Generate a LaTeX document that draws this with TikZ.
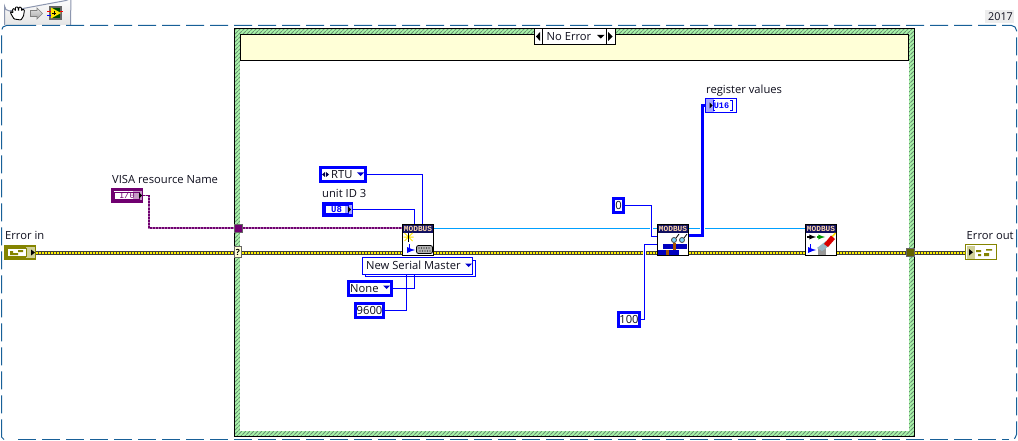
\documentclass[tikz,border=0pt]{standalone}
\usepackage{fontspec}
\setmainfont{Open Sans}
\newfontfamily\pixfont{Liberation Mono}
\usetikzlibrary{patterns}
\definecolor{wireblue}{RGB}{0,0,255}
\definecolor{visa}{RGB}{112,0,112}
\definecolor{errc}{RGB}{132,132,0}
\definecolor{errl}{RGB}{208,208,152}
\definecolor{sky}{RGB}{0,160,255}
\definecolor{framebl}{RGB}{24,96,152}
\definecolor{hatch}{RGB}{170,245,170}
\definecolor{hatchd}{RGB}{105,145,115}
\definecolor{subd}{RGB}{255,255,215}
\definecolor{tabc}{RGB}{140,150,175}
\definecolor{modnavy}{RGB}{16,16,96}
\definecolor{modtxt}{RGB}{255,215,170}
\definecolor{txtc}{RGB}{15,15,30}
\tikzset{
  x=1pt,y=-1pt,
  lbl/.style={inner sep=0pt,anchor=base west,font=\fontsize{11.2}{13}\selectfont,text=txtc},
  ctxt/.style={inner sep=0pt,anchor=base west,font=\fontsize{11.2}{13}\selectfont,text=txtc},
  wire/.style={draw=wireblue,line width=1pt},
  halo/.style={draw=white,line width=3pt},
  thick wire/.style={draw=wireblue,line width=3pt},
  const/.style={draw=wireblue,line width=2.8pt,fill=white,inner sep=0pt,font=\fontsize{11.2}{13}\selectfont,text=txtc},
  vi/.style={draw=black,line width=1.2pt,fill=white},
  mtext/.style={inner sep=0pt,text=modtxt,font=\pixfont\bfseries\fontsize{7.8}{8}\selectfont},
  frameline/.style={framebl,line width=1pt,dash pattern=on 18pt off 6pt},
  ddown/.style={fill=wireblue!80!black},
}
\pgfdeclarepatternformonly{hatchp}{\pgfpoint{-1pt}{-1pt}}{\pgfpoint{5pt}{5pt}}{\pgfpoint{4pt}{4pt}}{
  \pgfsetlinewidth{0.8pt}\pgfsetdash{{2.5pt}{1pt}}{0pt}\pgfpathmoveto{\pgfpoint{0pt}{0pt}}\pgfpathlineto{\pgfpoint{4pt}{4pt}}\pgfusepath{stroke}}
\newcommand{\modhead}[3]{%
  \node[vi,minimum width=31pt,minimum height=31pt,inner sep=0pt] (#3) at (#1,#2) {};
  \fill[modnavy] (#1-15.5,#2-15.5) rectangle (#1+15.5,#2-7);
  \draw[black,line width=1.2pt] (#1-15.5,#2-15.5) rectangle (#1+15.5,#2+15.5);
  \node[mtext] at (#1,#2-11) {MODBUS};}
\newcommand{\errwire}[2]{%
  \fill[black!85!yellow] (#1,250.5) rectangle (#2,254.5);
  \draw[yellow,line width=2pt,dash pattern=on 2pt off 1pt] (#1,252.5) -- (#2,252.5);}
\begin{document}
\begin{tikzpicture}
\useasboundingbox (0,0) rectangle (1018,441);
\fill[white] (0,0) rectangle (1018,441);
% tab
\draw[tabc,line width=1pt,top color=white,bottom color=black!10] (4.5,25) -- (4.5,6) arc[start angle=180,end angle=90,radius=5] -- (66,0.5) arc[start angle=90,end angle=0,radius=5] -- (70.5,25);
% hand
\draw[black,line width=.9pt,fill=white,rounded corners=.8pt] (14,19) -- (10.5,13) -- (11,11.5) -- (13,13) -- (12.5,9) -- (14.5,8.5) -- (15.5,11) -- (15.5,7) -- (18,7) -- (18.5,11) -- (19,7) -- (21.5,7.5) -- (21.5,11) -- (22.5,9) -- (24.5,10) -- (23.5,16) -- (21,20) -- cycle;
% arrow
\draw[black!50,top color=black!10,bottom color=black!35,line width=.7pt] (30.5,10.5) -- (37,10.5) -- (37,8) -- (42.5,13.5) -- (37,19) -- (37,16.5) -- (30.5,16.5) -- cycle;
% run icon
\fill[black!60] (49,6) rectangle (62,20);
\fill[black!70!green] (51,8) rectangle (60,18);
\fill[yellow!90!orange] (51,7.5) -- (61,13) -- (51,18.5) -- cycle;
\draw[red,line width=.8pt] (47,11) -- (51,11) (60,11) -- (63,11);
\draw[blue,line width=.8pt] (47,15.5) -- (51,15.5);
\draw[black,line width=.7pt] (52,13) -- (56,13) (54,11) -- (54,15);
% 2017
\fill[black!7] (985,10) rectangle (1013.5,23.5);
% outer frame
\draw[frameline,rounded corners=5pt] (18,25.5) -- (1016.5,25.5) -- (1016.5,439.5) -- (1010,439.5);
\draw[frameline] (18,439.5) -- (1009,439.5);
\draw[frameline,rounded corners=5pt] (18,25.5) -- (1.5,25.5) -- (1.5,434);
\draw[framebl,line width=1pt] (1.5,434) -- (1.5,437) -- (4,439.5);
\node[inner sep=0pt,anchor=base west,font=\fontsize{10.8}{12}\selectfont,text=txtc] (yr) at (988,20.5) {2017};
% case frame
\fill[hatch] (234.5,28.5) rectangle (914.5,436);
\fill[pattern=hatchp,pattern color=hatchd] (234.5,28.5) rectangle (914.5,436);
\fill[white] (240,34) rectangle (909,431);
\draw[black,line width=1pt] (234.5,28.5) rectangle (914.5,436);
% subdiagram label
\draw[black,line width=1pt,fill=subd] (240.5,34.5) rectangle (908.5,60.5);
% selector
\node[draw=black,line width=1pt,fill=white,minimum width=81pt,minimum height=16pt,inner sep=0pt] (sel) at (574.5,36.5) {};
\node[ctxt] at (546.5,40.5) {No Error};
\fill[black] (597,35) -- (604.5,35) -- (600.75,38.5) -- cycle;
\fill[black] (540,32) -- (540,41) -- (536,36.5) -- cycle;
\fill[black] (608,32) -- (608,41) -- (612.5,36.5) -- cycle;
\draw[black,line width=1pt] (542,28.5) -- (542,44.5) (606,28.5) -- (606,44.5);
% error wires
\errwire{36}{234}
\errwire{242}{402}
\errwire{434}{657}
\errwire{689}{805}
\errwire{837}{906}
\errwire{915}{965}
% visa wire
\draw[visa!55,line width=1.5pt] (143,195.5) -- (149,195.5) -- (149,228) -- (402,228);
\draw[visa,line width=1.5pt,dash pattern=on 2pt off 1pt] (143,195.5) -- (149,195.5) -- (149,228) -- (402,228);
% sky wires
\draw[sky,line width=1pt] (434,228.5) -- (657,228.5);
\draw[sky,line width=1pt] (689,228.5) -- (805,228.5);
% tunnels
\node[draw=black!60,line width=1pt,fill=visa,minimum size=8pt,inner sep=0pt] (tun1) at (238.5,228) {};
\node[draw=black!60,line width=1pt,fill=subd,minimum width=7pt,minimum height=11pt,inner sep=0pt,font=\bfseries\fontsize{8.5}{9}\selectfont,text=black] (tun2) at (238,252) {?};
\node[draw=black!60,line width=1pt,fill=errc!75!black,minimum size=8.5pt,inner sep=0pt] (tun3) at (910.5,252.5) {};
% VISA
\node[lbl] at (112,184) {VISA resource Name};
\node[draw=visa,line width=3pt,fill=white,minimum width=29pt,minimum height=12pt,inner sep=0pt] (vctl) at (127,195.5) {};
\fill[visa!40] (133,191) rectangle (141.5,200);
\node[draw=visa,line width=.8pt,minimum width=25pt,minimum height=7pt,inner sep=0pt,font=\pixfont\fontsize{8.5}{9}\selectfont,text=visa] at (127,195.5) {I/0};
\fill[black] (139,192.5) -- (139,198.5) -- (142,195.5) -- cycle;
% error in
\node[lbl] at (5,239) {Error in};
\node[draw=errc,line width=3pt,fill=white,minimum width=29pt,minimum height=12pt,inner sep=0pt] (ein) at (20,252.5) {};
\fill[errl] (26,247) rectangle (34.5,258);
\draw[errc,line width=.8pt] (7.5,248.5) rectangle (26,256.5);
\fill[errc] (10,251) rectangle (13,255) (13,253) rectangle (18,255) (18,250) rectangle (23,252);
\fill[black] (31,249.5) -- (31,255.5) -- (35,252.5) -- cycle;
% error out
\node[lbl] at (966.5,240) {Error out};
\node[draw=errc,line width=1.4pt,fill=white,minimum width=31pt,minimum height=15pt,inner sep=0pt] (eout) at (981,252) {};
\fill[errl] (966.5,245.5) rectangle (975,258.5);
\fill[black] (969,249) -- (969,255.5) -- (973,252.25) -- cycle;
\fill[errc] (976,250) rectangle (981,252) (978,254) rectangle (981,256) (984,253) rectangle (989,256) (986,249) rectangle (992,250.5);
% enum RTU
\node[const,minimum width=45pt,minimum height=14.5pt] (rtu) at (343,174.5) {};
\node[ctxt] at (331,178.5) {RTU};
\fill[black!70!blue] (322,174.5) -- (325,172) -- (325,177) -- cycle;
\fill[black!70!blue] (329,174.5) -- (326,172) -- (326,177) -- cycle;
\fill[ddown] (357,172.5) -- (364,172.5) -- (360.5,176) -- cycle;
% unit ID
\node[lbl] at (322,197) {unit ID 3};
\node[draw=wireblue,line width=3pt,fill=white,minimum width=28pt,minimum height=12pt,inner sep=0pt] (u8) at (337.5,209.5) {};
\fill[wireblue!35] (345,205) rectangle (351.5,214);
\node[draw=wireblue,line width=.8pt,minimum width=23pt,minimum height=8pt,inner sep=0pt,font=\pixfont\bfseries\fontsize{9}{9}\selectfont,text=wireblue] at (336.5,209.5) {U8};
\fill[black] (348,206.5) -- (348,212.5) -- (351,209.5) -- cycle;
% enum new serial master
\draw[wireblue,line width=1pt] (365,260) rectangle (475,276);
\node[draw=wireblue,line width=1pt,fill=white,minimum width=110pt,minimum height=17pt,inner sep=0pt] (nsm) at (417.5,265.5) {};
\node[ctxt] at (366,269.5) {New Serial Master};
\fill[ddown] (465,263.5) -- (472,263.5) -- (468.5,267) -- cycle;
% none
\node[const,minimum width=43pt,minimum height=14pt] (none) at (370,288.5) {};
\node[ctxt] at (350,292.5) {None};
\fill[ddown] (383,285.5) -- (390,285.5) -- (386.5,289) -- cycle;
% 9600
\node[const,minimum width=28pt,minimum height=14pt] (b96) at (369.5,310.5) {9600};
% const 0, 100
\node[const,minimum width=10pt,minimum height=14pt] (c0) at (618.5,205.5) {0};
\node[const,minimum width=21pt,minimum height=14pt] (c100) at (629,319.5) {100};
% wires
\draw[wire] (rtu.east) -- (422.5,174.5) -- (422.5,224);
\draw[wire] (u8.east) -- (414.5,209.5) -- (414.5,224);
\draw[wire] (none.east) -- (414.5,288.5) -- (414.5,274);
\draw[wire] (b96.east) -- (406.5,310.5) -- (406.5,274);
\draw[halo] (651.5,223) -- (651.5,233);
\draw[wire] (c0.east) -- (651.5,205.5) -- (651.5,236.5) -- (657,236.5);
\draw[halo] (644.5,258) -- (644.5,248);
\draw[wire] (c100.east) -- (644.5,319.5) -- (644.5,244.5) -- (657,244.5);
% modbus VIs
\modhead{418}{240}{vi1}
\modhead{673}{240}{vi2}
\modhead{821}{240}{vi3}
% vi1 glyphs
\draw[yellow!90!orange,line width=1pt] (404.5,233) -- (412.5,241) (412.5,233) -- (404.5,241) (403.5,237) -- (413.5,237);
\draw[black,line width=.6pt] (408.5,232.5) -- (408.5,241.5);
\draw[wireblue,line width=1.7pt,-latex] (409.5,244) -- (409.5,250) -- (415,250);
\draw[black,line width=.8pt,fill=black!30,rounded corners=2pt] (416.5,245.5) rectangle (432.5,253.5);
\foreach \xx in {419,421.5,424,426.5,429}{\fill[black] (\xx,248) circle (.6) (\xx+1,251) circle (.6);}
% vi2 glyphs
\draw[black!75,fill=cyan!50,line width=.8pt] (674,240) circle (2.5) (682,240) circle (2.5);
\draw[black,line width=.8pt] (676,238) -- (679,234) (684,238) -- (687,234);
\fill[wireblue!75!black] (663,244) rectangle (687,249);
\fill[wireblue!75!black] (658,250) rectangle (679,255);
\fill[orange!65!black] (672.5,242.5) rectangle (675.5,250);
\fill[orange!65!black] (666,250) rectangle (669,255.3);
% vi3 glyphs
\draw[black,line width=1.3pt,-latex] (807,237) -- (816,237);
\draw[green!60!black,line width=1.3pt,-latex] (817,237) -- (825,237);
\draw[wireblue,line width=1.7pt,-latex] (810.5,244) -- (810.5,250) -- (816,250);
\fill[black!40] (818,247) rectangle (826,255);
\fill[cyan!50!black!50] (817,248) -- (826,241) -- (829,246) -- (822,251) -- cycle;
\draw[yellow!80!orange,line width=1.6pt] (831,238) -- (835.5,233);
\fill[red!85!black] (824,244) -- (831,235.5) -- (835,239) -- (828,247) -- cycle;
% output
\node[lbl] at (706,94) {register values};
\node[draw=wireblue,line width=1pt,fill=white,minimum width=31pt,minimum height=14pt,inner sep=0pt] (arr) at (721,105.5) {};
\fill[wireblue!35] (706,99) rectangle (714,112);
\node[inner sep=0pt,font=\pixfont\bfseries\fontsize{8.5}{9}\selectfont,text=wireblue] at (721.5,105.5) {U16};
\fill[black] (709.5,102.5) -- (709.5,108.5) -- (712.5,105.5) -- cycle;
\draw[wireblue,line width=.9pt] (715,100.5) -- (713,100.5) -- (713,110.5) -- (715,110.5);
\draw[wireblue,line width=.9pt] (730,100.5) -- (732,100.5) -- (732,110.5) -- (730,110.5);
\draw[draw=white,line width=5pt] (702.5,234) -- (702.5,222);
\draw[thick wire] (689,235.5) -- (702.5,235.5) -- (702.5,105.5) -- (arr.west);
\end{tikzpicture}
\end{document}
